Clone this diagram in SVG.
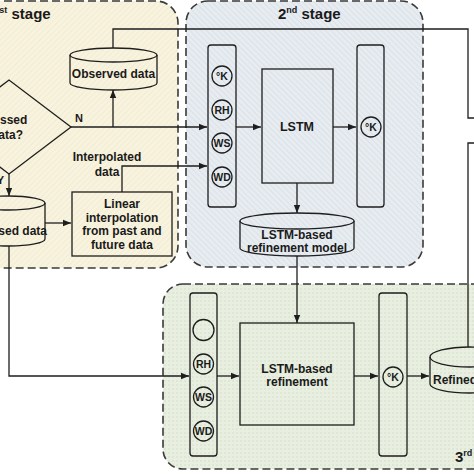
<svg xmlns="http://www.w3.org/2000/svg" width="474" height="474" viewBox="0 0 474 474">
<style>
.stage{stroke:#3a3a3a;stroke-width:1.6;stroke-dasharray:8 4}
.shape{fill:none;stroke:#1e1e1e;stroke-width:1.3}
.ln{fill:none;stroke:#1e1e1e;stroke-width:1.3}
.arrow{marker-end:url(#arr)}
text{font-family:"Liberation Sans",Arial,sans-serif;font-weight:bold;fill:#1a1a1a}
.t12{font-size:12px}
.ttl{font-size:15px}
.c{font-size:10.5px;text-anchor:middle}
.m{text-anchor:middle}
</style>
<defs>
<marker id="arr" viewBox="0 0 10 10" refX="10" refY="5" markerWidth="8" markerHeight="8" markerUnits="userSpaceOnUse" orient="auto">
<path d="M0,1 L10,5 L0,9 z" fill="#1e1e1e"/>
</marker>
<pattern id="h1" width="4" height="4" patternUnits="userSpaceOnUse" patternTransform="rotate(45)">
<rect width="4" height="4" fill="#f8f3de"/>
<line x1="0" y1="0" x2="0" y2="4" stroke="#ede5c6" stroke-width="1"/>
</pattern>
<pattern id="h2" width="4" height="4" patternUnits="userSpaceOnUse" patternTransform="rotate(-45)">
<rect width="4" height="4" fill="#e7ecf1"/>
<line x1="0" y1="0" x2="0" y2="4" stroke="#cfd7e0" stroke-width="1"/>
</pattern>
<pattern id="h3" width="4" height="4" patternUnits="userSpaceOnUse">
<rect width="4" height="4" fill="#e8eee0"/>
<rect width="2" height="2" fill="#dee7d4"/>
</pattern>
</defs>
<rect width="474" height="474" fill="#ffffff"/>

<g id="stage1">
<rect class="stage" x="-30" y="1" width="208" height="267" rx="22" fill="url(#h1)"/>
<text class="ttl" x="-9" y="19">1<tspan font-size="9" dy="-6">st</tspan><tspan dy="6"> stage</tspan></text>
</g>
<g id="stage2">
<rect class="stage" x="186" y="1" width="237" height="266" rx="22" fill="url(#h2)"/>
<text class="ttl" x="278" y="19">2<tspan font-size="9" dy="-6">nd</tspan><tspan dy="6"> stage</tspan></text>
</g>
<g id="stage3">
<rect class="stage" x="163" y="284" width="340" height="185" rx="20" fill="url(#h3)"/>
<text class="ttl" x="455" y="462">3<tspan font-size="9" dy="-6">rd</tspan><tspan dy="6"> stage</tspan></text>
</g>

<g id="connectors">
<path class="ln arrow" d="M71,127 H207"/>
<path class="ln arrow" d="M113,127 V90"/>
<path class="ln" d="M113,48 V29 H468 V118 H476"/>
<path class="ln" d="M476,143 H468 V347"/>
<path class="ln arrow" d="M9,174 V196"/>
<path class="ln arrow" d="M45,223 H71"/>
<path class="ln arrow" d="M122,192 V166 H207"/>
<path class="ln arrow" d="M9,246 V376 H189"/>
<path class="ln arrow" d="M236,127 H261"/>
<path class="ln arrow" d="M333,127 H356"/>
<path class="ln arrow" d="M297,183 V213"/>
<path class="ln arrow" d="M297,256 V323"/>
<path class="ln arrow" d="M217,376 H239"/>
<path class="ln arrow" d="M354,376 H378"/>
<path class="ln arrow" d="M407,376 H429"/>
<text x="79" y="122" class="m" font-size="11px">N</text>
<text x="4" y="184" text-anchor="end" font-size="11px">Y</text>
<text x="107" y="161" class="t12 m">Interpolated</text>
<text x="107" y="176" class="t12 m">data</text>
</g>

<g id="observed-data">
<path class="shape" d="M70,55 A43.5,7 0 0 1 157,55 V83 A43.5,7 0 0 1 70,83 Z"/>
<path class="shape" d="M70,55 A43.5,7 0 0 0 157,55"/>
<text x="113.5" y="78" class="t12 m">Observed data</text>
</g>

<g id="missed-decision">
<polygon class="shape" points="71,127 9,80 -53,127 9,174"/>
<text x="7" y="124" class="t12 m">Missed</text>
<text x="7" y="139" class="t12 m">data?</text>
</g>

<g id="missed-data">
<path class="shape" d="M-27,203 A36,7 0 0 1 45,203 V239 A36,7 0 0 1 -27,239 Z"/>
<path class="shape" d="M-27,203 A36,7 0 0 0 45,203"/>
<text x="47" y="235" class="t12" text-anchor="end">Missed data</text>
</g>

<g id="linear-interpolation">
<rect class="shape" x="72" y="192" width="100" height="64"/>
<text x="122" y="208" class="t12 m">Linear</text>
<text x="122" y="222" class="t12 m">interpolation</text>
<text x="122" y="235" class="t12 m">from past and</text>
<text x="122" y="249" class="t12 m">future data</text>
</g>

<g id="s2-inputs">
<rect class="shape" x="208" y="45" width="28" height="162" rx="3"/>
<circle class="shape" cx="222" cy="76" r="10"/>
<text x="222" y="80" class="c">°K</text>
<circle class="shape" cx="222" cy="110" r="10"/>
<text x="222" y="114" class="c">RH</text>
<circle class="shape" cx="222" cy="143" r="10"/>
<text x="222" y="147" class="c">WS</text>
<circle class="shape" cx="222" cy="177" r="10"/>
<text x="222" y="181" class="c">WD</text>
</g>

<g id="lstm">
<rect class="shape" x="262" y="69" width="71" height="114"/>
<text x="297" y="131" class="m" font-size="12.5px">LSTM</text>
</g>

<g id="s2-output">
<rect class="shape" x="357" y="45" width="27" height="162" rx="3"/>
<circle class="shape" cx="371" cy="127" r="10"/>
<text x="371" y="131" class="c">°K</text>
</g>

<g id="lstm-model">
<path class="shape" d="M240,221 A57,8 0 0 1 354,221 V248 A57,8 0 0 1 240,248 Z"/>
<path class="shape" d="M240,221 A57,8 0 0 0 354,221"/>
<text x="297" y="238.5" class="t12 m">LSTM-based</text>
<text x="297" y="252" class="t12 m">refinement model</text>
</g>

<g id="s3-inputs">
<rect class="shape" x="190" y="293" width="27" height="163" rx="3"/>
<circle class="shape" cx="203.5" cy="330" r="10.5"/>
<circle class="shape" cx="203.5" cy="364" r="10"/>
<text x="203.5" y="368" class="c">RH</text>
<circle class="shape" cx="203.5" cy="397" r="10"/>
<text x="203.5" y="401" class="c">WS</text>
<circle class="shape" cx="203.5" cy="431" r="10"/>
<text x="203.5" y="435" class="c">WD</text>
</g>

<g id="lstm-refinement">
<rect class="shape" x="240" y="323" width="114" height="102"/>
<text x="297" y="373" class="t12 m">LSTM-based</text>
<text x="297" y="386" class="t12 m">refinement</text>
</g>

<g id="s3-output">
<rect class="shape" x="379" y="293" width="28" height="163" rx="3"/>
<circle class="shape" cx="393" cy="377" r="10"/>
<text x="393" y="381" class="c">°K</text>
</g>

<g id="refined-data">
<path class="shape" d="M430,357 A40,10 0 0 1 510,357 V384 A40,9 0 0 1 430,384 Z"/>
<path class="shape" d="M430,357 A40,10 0 0 0 510,357"/>
<text x="433" y="384" class="t12">Refined data</text>
</g>
</svg>
